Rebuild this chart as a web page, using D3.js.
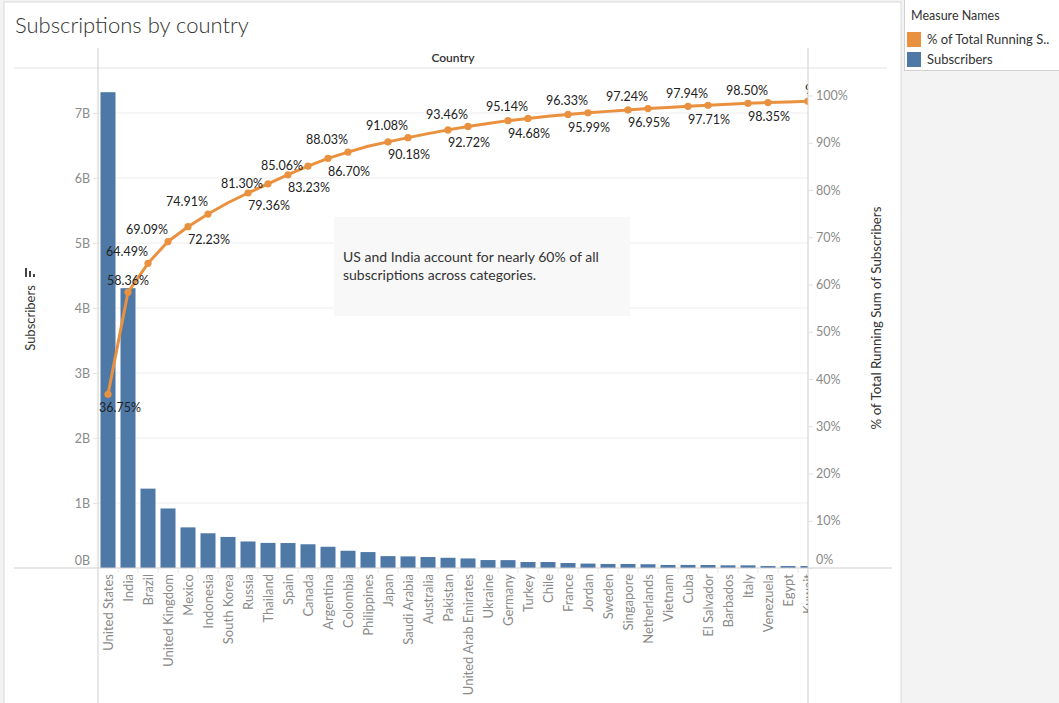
<!DOCTYPE html>
<html>
<head>
<meta charset="utf-8">
<script src="https://cdn.jsdelivr.net/npm/d3@7/dist/d3.min.js"></script>
<style>
  html, body { margin: 0; padding: 0; background: #f3f3f3; }
  svg { display: block; font-family: Lato, "Open Sans", sans-serif; }
</style>
</head>
<body>
<svg id="chart" width="1059" height="703"></svg>
<script>
// ---------------- data ----------------
const countries = ["United States","India","Brazil","United Kingdom","Mexico","Indonesia","South Korea","Russia","Thailand","Spain","Canada","Argentina","Colombia","Philippines","Japan","Saudi Arabia","Australia","Pakistan","United Arab Emirates","Ukraine","Germany","Turkey","Chile","France","Jordan","Sweden","Singapore","Netherlands","Vietnam","Cuba","El Salvador","Barbados","Italy","Venezuela","Egypt","Kuwait"];
// Subscribers, billions
const subscribers = [7.32,4.305,1.221,0.916,0.625,0.534,0.478,0.408,0.386,0.384,0.365,0.327,0.265,0.245,0.183,0.179,0.169,0.157,0.147,0.122,0.121,0.092,0.092,0.077,0.068,0.062,0.062,0.058,0.047,0.047,0.046,0.041,0.041,0.030,0.030,0.030];
// % of total running sum of subscribers
const runningPct = [36.75,58.36,64.49,69.09,72.23,74.91,77.30,79.36,81.30,83.23,85.06,86.70,88.03,89.26,90.18,91.08,91.93,92.72,93.46,94.07,94.68,95.14,95.60,95.99,96.33,96.64,96.95,97.24,97.48,97.71,97.94,98.15,98.35,98.50,98.65,98.80];
// which points carry a label in the reference
const labelled = [1,1,1,1,1,1,0,1,1,1,1,1,1,0,1,1,0,1,1,0,1,1,0,1,1,0,1,1,0,1,1,0,1,1,0,1];
const leftTicks = [0,1,2,3,4,5,6,7];
const rightTicks = [0,10,20,30,40,50,60,70,80,90,100];
const legendItems = ["% of Total Running S..","Subscribers"];
const title = "Subscriptions by country";
const note = ["US and India account for nearly 60% of all","subscriptions across categories."];

// ---------------- layout ----------------
const svg = d3.select("#chart");
const paneL = 98, paneR = 808, paneT = 68, base = 568;
const blue = "#4e79a7", orange = "#e9913e";
const axisGray = "#cfcfcf", tickText = "#8a8a8a", dark = "#333";

// sheet background
svg.append("rect").attr("x",4).attr("y",2).attr("width",897).attr("height",710)
  .attr("fill","#fff").attr("stroke","#d9d9d9");

// title
svg.append("text").attr("x",15).attr("y",33).attr("font-size",22).attr("font-weight",300)
  .attr("fill",dark).text(title);

// scales
const x = d3.scaleBand().domain(countries).range([paneL, paneL + 20*countries.length])
  .paddingInner(0.25).paddingOuter(0.125);
const yL = d3.scaleLinear().domain([0,7]).range([base,113]);
const yR = d3.scaleLinear().domain([0,100]).range([base,95.5]);

// gridlines
svg.append("g").selectAll("line").data(leftTicks.filter(d=>d>0)).join("line")
  .attr("x1",paneL).attr("x2",paneR).attr("y1",d=>yL(d)).attr("y2",d=>yL(d))
  .attr("stroke","#ededed");

// header row
svg.append("line").attr("x1",14).attr("x2",887).attr("y1",paneT).attr("y2",paneT).attr("stroke","#e3e3e3");
svg.append("text").attr("x",453).attr("y",62).attr("text-anchor","middle").attr("font-size",12)
  .attr("font-weight",600).attr("fill",dark).text("Country");

// pane clip
svg.append("clipPath").attr("id","pane").append("rect")
  .attr("x",paneL).attr("y",paneT).attr("width",paneR-paneL).attr("height",base-paneT+1);
const pane = svg.append("g").attr("clip-path","url(#pane)");

// bars
pane.append("g").selectAll("rect").data(countries).join("rect")
  .attr("x",d=>x(d)).attr("width",x.bandwidth())
  .attr("y",(d,i)=>yL(subscribers[i])).attr("height",(d,i)=>base-yL(subscribers[i]))
  .attr("fill",blue);

// running pct line
const pts = countries.map((c,i)=>({c, i, v: runningPct[i], px: x(c)+x.bandwidth()/2, py: yR(runningPct[i])}));
pane.append("path").datum(pts)
  .attr("d", d3.line().x(d=>d.px).y(d=>d.py))
  .attr("fill","none").attr("stroke",orange).attr("stroke-width",3).attr("stroke-linejoin","round");
pane.append("g").selectAll("circle").data(pts.filter(d=>labelled[d.i])).join("circle")
  .attr("cx",d=>d.px).attr("cy",d=>d.py).attr("r",3.6).attr("fill",orange);

// label placement (style config)
const place = {0:"B",1:"A",2:"AL",3:"AL",4:"BR",5:"AL",7:"BR",8:"L",9:"BR",10:"L",11:"BR",35:"AR"};
const lab = pane.append("g").attr("font-size",12.5).attr("fill","#222");
pts.filter(d=>labelled[d.i]).forEach(d=>{
  let p = place[d.i];
  if (!p) p = labelled[d.i-1] ? "AL" : "BR";
  const t = lab.append("text").text(d3.format(".2f")(d.v)+"%").attr("dy","0.35em");
  const w = t.node().getComputedTextLength();
  let tx, ty;
  if (p==="B")  { tx = Math.max(paneL+1, d.px - w/2); ty = d.py + 13; }
  if (p==="A")  { tx = Math.max(paneL+1, d.px - w/2); ty = d.py - 12; }
  if (p==="AL") { tx = d.px - w; ty = d.py - 12; }
  if (p==="BR") { tx = d.px; ty = d.py + 13; }
  if (p==="L")  { tx = d.px - 5 - w; ty = d.py; }
  if (p==="AR") { tx = d.px - 3; ty = d.py - 12; }
  t.attr("x",tx).attr("y",ty);
});

// pane borders
svg.append("line").attr("x1",paneL).attr("x2",paneL).attr("y1",48).attr("y2",703).attr("stroke",axisGray);
svg.append("line").attr("x1",paneR).attr("x2",paneR).attr("y1",48).attr("y2",703).attr("stroke",axisGray);
svg.append("line").attr("x1",14).attr("x2",892).attr("y1",base).attr("y2",base).attr("stroke",axisGray);

// left axis
const gL = svg.append("g").attr("transform",`translate(${paneL},0)`)
  .call(d3.axisLeft(yL).tickValues(leftTicks).tickFormat(d=>d+"B").tickSize(5));
gL.select(".domain").remove();
gL.selectAll(".tick line").attr("stroke","#e6e6e6");
gL.selectAll(".tick text").attr("fill",tickText).attr("font-size",12.5).attr("font-family","Lato, sans-serif")
  .attr("dy",d=>d===0?"-0.25em":"0.32em");

// right axis
const gR = svg.append("g").attr("transform",`translate(${paneR},0)`)
  .call(d3.axisRight(yR).tickValues(rightTicks).tickFormat(d=>d+"%").tickSize(5));
gR.select(".domain").remove();
gR.selectAll(".tick line").attr("stroke","#e0e0e0");
gR.selectAll(".tick text").attr("fill",tickText).attr("font-size",12.5).attr("font-family","Lato, sans-serif")
  .attr("dy",d=>d===0?"-0.4em":"0.32em");

// x axis labels
svg.append("clipPath").attr("id","xlab").append("rect")
  .attr("x",paneL).attr("y",base).attr("width",paneR-paneL).attr("height",140);
const gX = svg.append("g").attr("clip-path","url(#xlab)")
  .append("g").attr("transform",`translate(0,${base})`)
  .call(d3.axisBottom(x).tickSize(0));
gX.select(".domain").remove();
gX.selectAll(".tick text").attr("fill",tickText).attr("font-size",13).attr("font-family","Lato, sans-serif")
  .attr("transform","rotate(-90)").attr("text-anchor","end").attr("x",-6).attr("y",0).attr("dy","0.35em");
// faint separators between x labels
svg.append("g").selectAll("line").data(countries.slice(1)).join("line")
  .attr("x1",d=>x(d)-2.5).attr("x2",d=>x(d)-2.5).attr("y1",base).attr("y2",base+5)
  .attr("stroke","#e8e8e8");

// axis titles
svg.append("text").attr("transform","translate(35,318) rotate(-90)").attr("text-anchor","middle")
  .attr("font-size",13).attr("fill",dark).text("Subscribers");
const icon = svg.append("g").attr("fill","#444");
icon.append("rect").attr("x",25).attr("y",268).attr("width",2).attr("height",9);
icon.append("rect").attr("x",29).attr("y",271).attr("width",2).attr("height",6);
icon.append("rect").attr("x",33).attr("y",274).attr("width",2).attr("height",3);
svg.append("text").attr("transform","translate(881,318) rotate(-90)").attr("text-anchor","middle")
  .attr("font-size",13.3).attr("fill",dark).text("% of Total Running Sum of Subscribers");

// annotation
svg.append("rect").attr("x",334).attr("y",217).attr("width",296).attr("height",99).attr("fill","#f8f8f8");
svg.append("g").selectAll("text").data(note).join("text")
  .attr("x",343).attr("y",(d,i)=>262+i*18).attr("font-size",14).attr("fill",dark).text(d=>d);

// legend
svg.append("rect").attr("x",904.5).attr("y",-1).attr("width",160).attr("height",71.5)
  .attr("fill","#fff").attr("stroke","#d0d0d0");
svg.append("text").attr("x",911).attr("y",20).attr("font-size",12.5).attr("fill",dark).text("Measure Names");
const lg = svg.append("g").selectAll("g").data(legendItems).join("g")
  .attr("transform",(d,i)=>`translate(907,${32+i*20})`);
lg.append("rect").attr("width",14).attr("height",15).attr("fill",(d,i)=>i===0?orange:blue);
lg.append("text").attr("x",20).attr("y",7.5).attr("dy","0.35em").attr("font-size",13).attr("fill",dark).text(d=>d);
</script>
</body>
</html>
